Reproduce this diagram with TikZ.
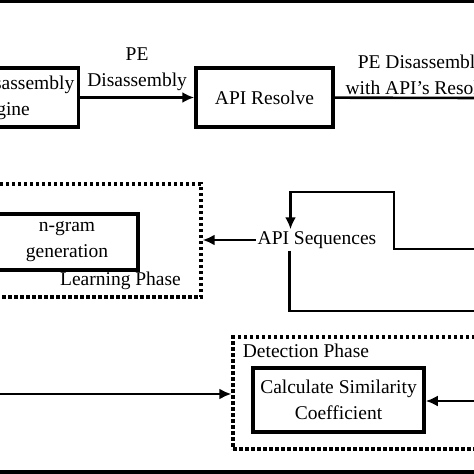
\documentclass[tikz,border=0pt]{standalone}
\usepackage{fontspec}
\setmainfont{Liberation Serif}
\usetikzlibrary{arrows.meta}
\tikzset{
    box/.style={draw, line width=3.5pt, inner sep=3pt},
    phase/.style={draw, line width=3.3pt, dash pattern=on 3.5pt off 2.5pt},
    arr/.style={line width=2.6pt, -{Latex[length=12pt,width=11pt]}},
    wire/.style={line width=2.6pt},
}
\begin{document}
\begin{tikzpicture}[x=1pt, y=-1pt, font=\fontsize{19.5}{26}\selectfont]
    \useasboundingbox (0,0) rectangle (474,474);
    \clip (0,0) rectangle (474,474);
    % top row
    \node[box, minimum width=520pt, minimum height=43pt] (upper) at (237,-20) {};
    \node[box, align=left, anchor=east, minimum height=59pt, inner xsep=4pt] (engine) at (80,97.5) {Disassembly\\Engine};
    \node[box, minimum width=137pt, minimum height=59pt] (resolve) at (264.5,97.5) {API Resolve};
    \draw[arr] (engine) -- (resolve) node[midway, above=2pt, align=center] (disaslbl) {PE\\Disassembly};
    \coordinate (outR) at (480,98);
    \draw[wire] (resolve) -- (outR);
    \node[align=center, above=0pt] (resolvelbl) at (421.5,98) {PE Disassembly\\with API’s Resolve};
    % learning phase
    \node[phase, minimum width=211pt, minimum height=113pt] (learn) at (95.5,240.5) {};
    \node[box, minimum width=142pt, minimum height=56pt, align=center] (ngram) at (67,242) {n-gram\\generation};
    \node (learnlbl) at (120.5,281) {Learning Phase};
    \node[inner sep=2pt] (seq) at (317,240) {API Sequences};
    \draw[arr] (seq.west) -- (seq.west -| learn.east);
    \coordinate (inR) at (480,249);
    \draw[arr] (inR) -| (394,192) -| ([xshift=35pt]seq.north west); % loop back
    \coordinate (outR2) at (480,311);
    \draw[wire] ([xshift=34pt]seq.south west) |- (outR2);
    % detection phase
    \node[phase, minimum width=257pt, minimum height=112pt] (detect) at (361.5,393) {};
    \node (detectlbl) at (306,351) {Detection Phase};
    \node[box, minimum width=171pt, minimum height=64pt, align=center] (simil) at (338.5,400) {Calculate Similarity\\Coefficient};
    \coordinate (inL) at (-10,394);
    \draw[arr] (inL) -- (inL -| detect.west);
    \coordinate (inR2) at (480,401);
    \draw[arr] (inR2) -- (inR2 -| simil.east);
    \node[box, minimum width=520pt, minimum height=40pt] (lower) at (237,492) {};
\end{tikzpicture}
\end{document}
